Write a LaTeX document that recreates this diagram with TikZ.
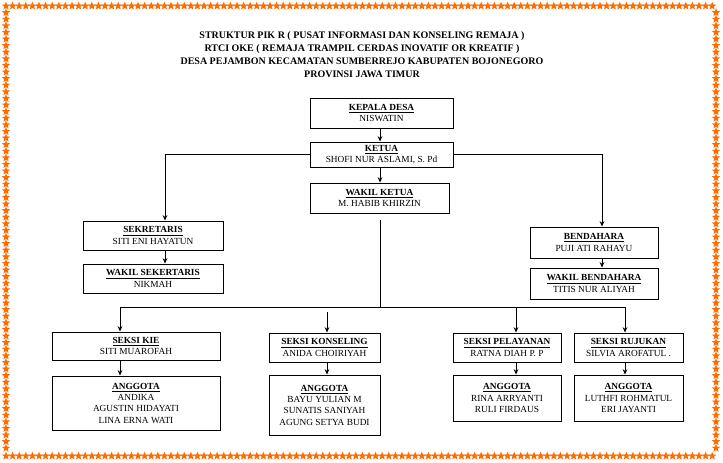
\documentclass[tikz,border=0pt]{standalone}
\usepackage{fontspec}
\setmainfont{Liberation Serif}
\usetikzlibrary{shapes.geometric,arrows.meta}
\begin{document}
\begin{tikzpicture}[x=0.75pt,y=-0.75pt,
  box/.style={draw,line width=0.7pt,inner sep=0pt,align=center,font=\fontsize{7}{8.5}\selectfont},
  arr/.style={line width=0.6pt,-{Stealth[length=4pt,width=3.5pt]}},
  ln/.style={line width=0.6pt},
  st/.style={star,star points=5,star point ratio=2.3,fill=orange!85!red,draw=none,minimum size=6.5pt,inner sep=0pt}]
\useasboundingbox[fill=white] (0,0) rectangle (723,463);
% star border
\foreach \i in {0,...,107} {\node[st] at ({6+\i*6.6},6) {}; \node[st] at ({6+\i*6.6},456) {};}
\foreach \i in {1,...,67} {\node[st] at (6,{6+\i*6.6}) {}; \node[st] at (716,{6+\i*6.6}) {};}
% title
\node[align=center,font=\fontsize{7.5}{9.8}\selectfont\bfseries] (title) at (362,55)
{STRUKTUR PIK R ( PUSAT INFORMASI DAN KONSELING REMAJA )\\RTCI OKE ( REMAJA TRAMPIL CERDAS INOVATIF OR KREATIF )\\DESA PEJAMBON KECAMATAN SUMBERREJO KABUPATEN BOJONEGORO\\PROVINSI JAWA TIMUR};
% boxes
\node[box,minimum width=107.25pt,minimum height=22.5pt] (kep) at (381.5,113) {\underline{\textbf{KEPALA DESA}}\\NISWATIN};
\node[box,minimum width=107.25pt,minimum height=18.75pt] (ket) at (381.5,154.5) {\underline{\textbf{KETUA}}\\SHOFI NUR ASLAMI, S. Pd};
\node[box,minimum width=104.25pt,minimum height=22.5pt] (wak) at (379.5,198) {\underline{\textbf{WAKIL KETUA}}\\M. HABIB KHIRZIN};
\node[box,minimum width=96pt,minimum height=23.25pt] (ben) at (594,242.5) {\underline{\textbf{BENDAHARA}}\\PUJI ATI RAHAYU};
\node[box,minimum width=96pt,minimum height=23.25pt] (wben) at (594,283.5) {\underline{\textbf{WAKIL BENDAHARA}}\\TITIS NUR ALIYAH};
\node[box,minimum width=105pt,minimum height=21.75pt] (sek) at (153,235.5) {\underline{\textbf{SEKRETARIS}}\\SITI ENI HAYATUN};
\node[box,minimum width=105pt,minimum height=21.75pt] (wsek) at (153,278.5) {\underline{\textbf{WAKIL SEKERTARIS}}\\NIKMAH};
\node[box,minimum width=126pt,minimum height=21pt] (kie) at (136,346) {\underline{\textbf{SEKSI KIE}}\\SITI MUAROFAH};
\node[box,minimum width=126pt,minimum height=40.5pt] (akie) at (136,403) {\underline{\textbf{ANGGOTA}}\\ANDIKA\\AGUSTIN HIDAYATI\\LINA ERNA WATI};
\node[box,minimum width=83.25pt,minimum height=21.75pt] (kon) at (324.5,347.5) {\underline{\textbf{SEKSI KONSELING}}\\ANIDA CHOIRIYAH};
\node[box,minimum width=83.25pt,minimum height=45pt] (akon) at (324.5,405) {\underline{\textbf{ANGGOTA}}\\BAYU YULIAN M\\SUNATIS SANIYAH\\AGUNG SETYA BUDI};
\node[box,minimum width=81pt,minimum height=21.75pt] (pel) at (507,347.5) {\underline{\textbf{SEKSI PELAYANAN}}\\RATNA DIAH P. P};
\node[box,minimum width=81pt,minimum height=34.5pt] (apel) at (507,398) {\underline{\textbf{ANGGOTA}}\\RINA ARRYANTI\\RULI FIRDAUS};
\node[box,minimum width=81.75pt,minimum height=21.75pt] (ruj) at (628.5,347.5) {\underline{\textbf{SEKSI RUJUKAN}}\\SILVIA AROFATUL .};
\node[box,minimum width=81.75pt,minimum height=34.5pt] (aruj) at (628.5,398) {\underline{\textbf{ANGGOTA}}\\LUTHFI ROHMATUL\\ERI JAYANTI};
% coordinates
\coordinate (ax) at (380,0);
\coordinate (top) at (380,220);
\coordinate (hub) at (380,307);
\coordinate (L) at (120,307);
\coordinate (R) at (625,307);
\coordinate (K) at (327,312);
\coordinate (P) at (516,307);
% connectors
\draw[arr] (kep.south -| ax) -- (ket.north -| ax);
\draw[arr] (ket.south -| ax) -- (wak.north -| ax);
\draw[arr] (ket.east) -| (ben.north -| 602,0);
\draw[arr] (ket.west) -| (sek.north -| 165,0);
\draw[arr] (ben.south -| 602,0) -- (wben.north -| 602,0);
\draw[arr] (sek.south -| 165,0) -- (wsek.north -| 165,0);
\draw[ln] (top) -- (hub);
\draw[ln] (L) -- (R);
\draw[arr] (L) -- (kie.north -| L);
\draw[arr] (K) -- (kon.north -| K);
\draw[arr] (P) -- (pel.north -| P);
\draw[arr] (R) -- (ruj.north -| R);
\draw[arr] (kie.south -| L) -- (akie.north -| L);
\draw[arr] (kon.south -| K) -- (akon.north -| K);
\draw[arr] (pel.south -| P) -- (apel.north -| P);
\draw[arr] (ruj.south -| R) -- (aruj.north -| R);
\end{tikzpicture}
\end{document}
